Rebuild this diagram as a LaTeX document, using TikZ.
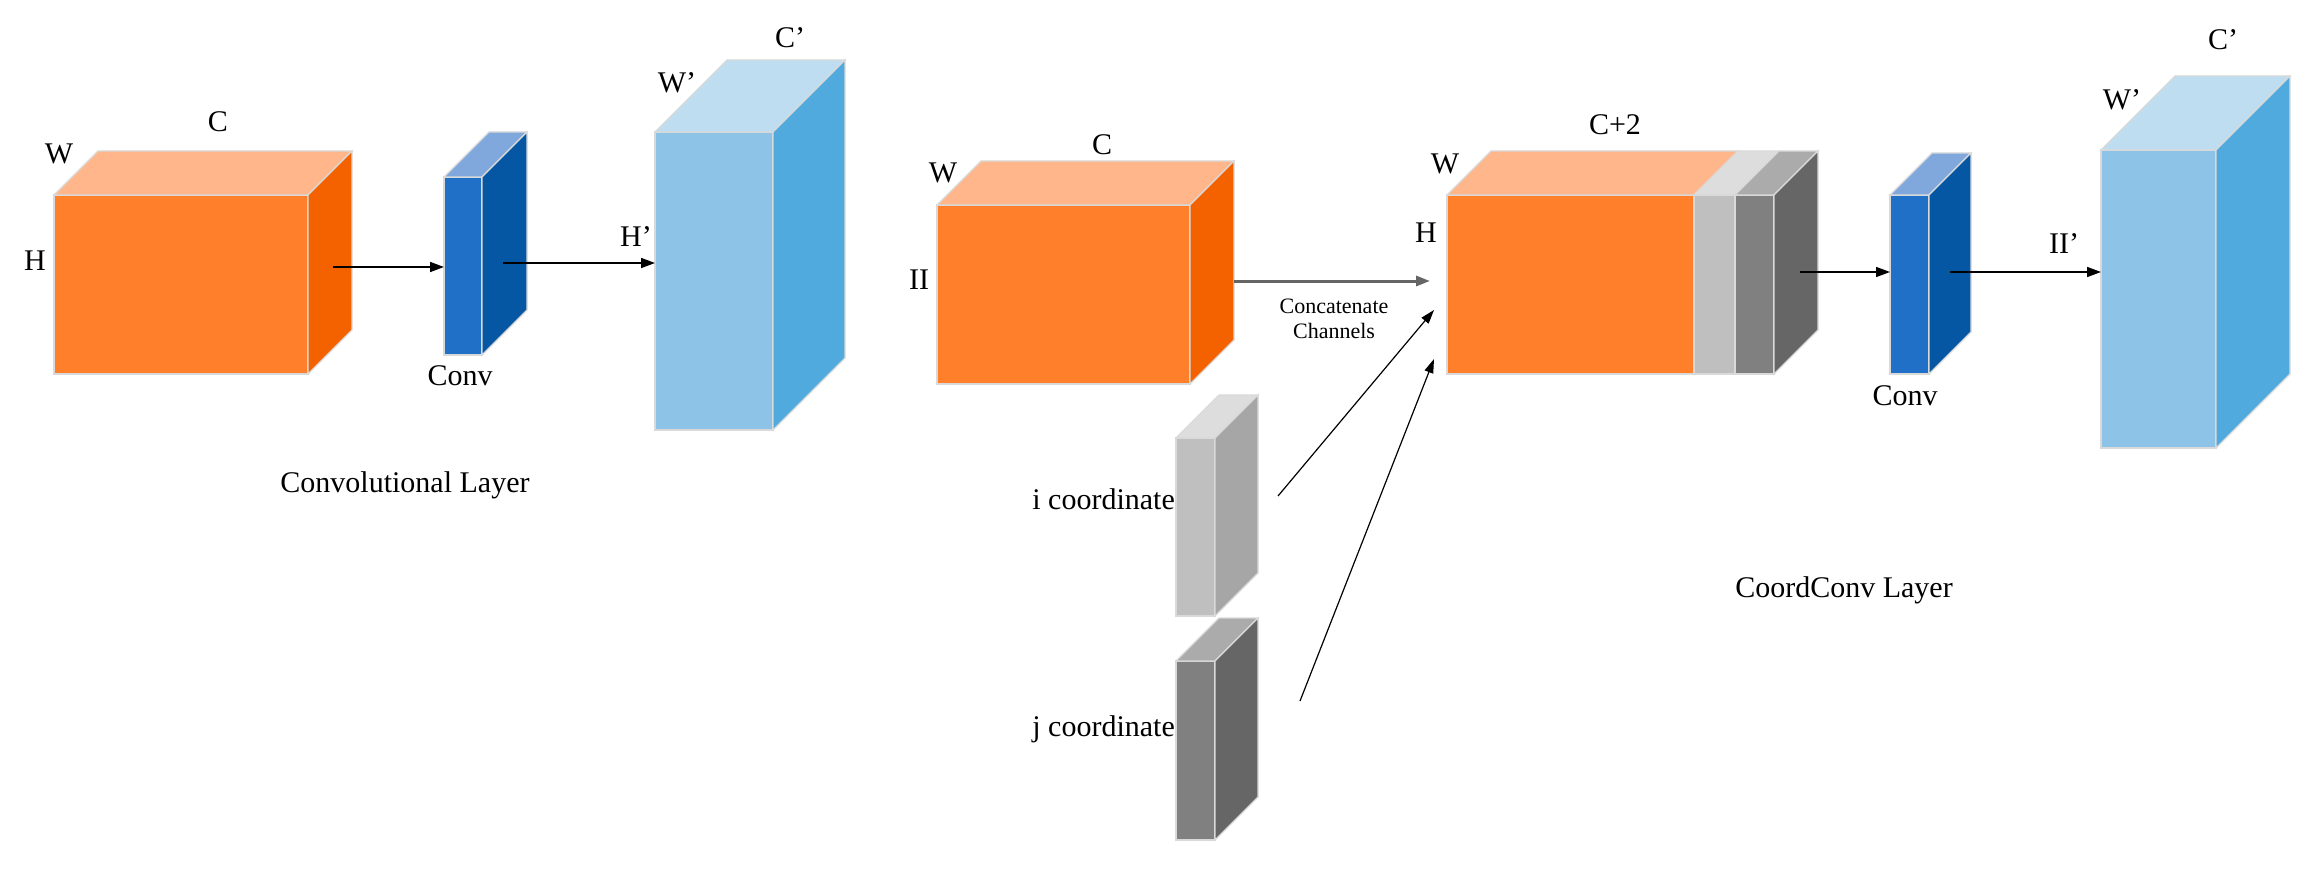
\documentclass[tikz,border=0pt]{standalone}
\usepackage{fontspec}
\setmainfont{Liberation Serif}
\usetikzlibrary{arrows.meta}
\definecolor{orF}{HTML}{FF7F2A}\definecolor{orT}{HTML}{FFB68A}\definecolor{orR}{HTML}{F46200}
\definecolor{cvF}{HTML}{2070C8}\definecolor{cvT}{HTML}{80A8DC}\definecolor{cvR}{HTML}{0557A4}
\definecolor{blF}{HTML}{8DC3E7}\definecolor{blT}{HTML}{BEDDF1}\definecolor{blR}{HTML}{50AADD}
\definecolor{g1F}{HTML}{BFBFBF}\definecolor{g1T}{HTML}{DDDDDD}\definecolor{g1R}{HTML}{A6A6A6}
\definecolor{g2F}{HTML}{808080}\definecolor{g2T}{HTML}{ABABAB}\definecolor{g2R}{HTML}{666666}
\newcommand\cuboid[9]{%
 \node[face,fill=#7,minimum width=#4pt,minimum height=#5pt,anchor=north west] (#1) at (#2,#3) {};
 \filldraw[edge,fill=#8] (#1.north west) -- ++(#6,-#6) -- ++(#4,0) -- (#1.north east) -- cycle;
 \filldraw[edge,fill=#9] (#1.north east) -- ++(#6,-#6) -- ++(0,#5) -- (#1.south east) -- cycle;}
\begin{document}
\begin{tikzpicture}[x=1pt,y=-1pt,
 face/.style={draw=white!85!black,line width=1.2pt,inner sep=0pt,outer sep=0pt},
 edge/.style={draw=white!85!black,line width=1.2pt},
 lab/.style={font=\fontsize{30}{32}\selectfont,inner sep=1pt},
 small/.style={font=\fontsize{22}{25}\selectfont,inner sep=1pt,align=center},
 arr/.style={line width=1.6pt,-{Triangle[length=14pt,width=10pt]}},
 thin/.style={line width=1.2pt,-{Triangle[length=14pt,width=9pt]}}]
\useasboundingbox (0,0) rectangle (2318,869);
% left panel
\cuboid{or1}{54}{195}{254}{179}{44}{orF}{orT}{orR}
\cuboid{cv1}{444}{177}{38}{178}{45}{cvF}{cvT}{cvR}
\cuboid{bl1}{655}{132}{118}{298}{72}{blF}{blT}{blR}
\node[lab] (w1) at (59,154) {W};
\node[lab] (c1) at (218,122) {C};
\node[lab] (h1) at (35,261) {H};
\node[lab] (cvl1) at (460,376) {Conv};
\node[lab] (h1p) at (636,237) {H'};
\node[lab] (w1p) at (677,83) {W'};
\node[lab] (c1p) at (790,38) {C'};
\node[lab] (t1) at (405,485) {Convolutional Layer};
\coordinate (a1) at (333,267);
\draw[arr] (a1) -- (cv1.west |- a1);
\coordinate (a2) at (503,263);
\draw[arr] (a2) -- (bl1.west |- a2);
% middle
\cuboid{or2}{937}{205}{253}{179}{44}{orF}{orT}{orR}
\node[lab] (w2) at (943,173) {W};
\node[lab] (c2) at (1102,145) {C};
\node[lab] (h2) at (919,280) {II};
\cuboid{ci}{1176}{438}{39}{178}{43}{g1F}{g1T}{g1R}
\cuboid{cj}{1176}{661}{39}{179}{43}{g2F}{g2T}{g2R}
\node[lab,anchor=east] (ti) at (1176,499) {i coordinate};
\node[lab,anchor=east] (tj) at (1176,729) {j coordinate};
% combined
\node[face,fill=orF,minimum width=247pt,minimum height=179pt,anchor=north west] (cmb) at (1447,195) {};
\node[face,fill=g1F,minimum width=41pt,minimum height=179pt,anchor=north west] (cmg1) at (cmb.north east) {};
\node[face,fill=g2F,minimum width=39pt,minimum height=179pt,anchor=north west] (cmg2) at (cmg1.north east) {};
\filldraw[edge,fill=orT] (cmb.north west) -- ++(44,-44) -- ++(247,0) -- (cmb.north east) -- cycle;
\filldraw[edge,fill=g1T] (cmg1.north west) -- ++(44,-44) -- ++(41,0) -- (cmg1.north east) -- cycle;
\filldraw[edge,fill=g2T] (cmg2.north west) -- ++(44,-44) -- ++(39,0) -- (cmg2.north east) -- cycle;
\filldraw[edge,fill=g2R] (cmg2.north east) -- ++(44,-44) -- ++(0,179) -- (cmg2.south east) -- cycle;
\node[lab] (hc) at (1426,233) {H};
\node[lab] (wc) at (1445,164) {W};
\node[lab] (cc) at (1615,125) {C+2};
\coordinate (cat) at (1430,281);
\draw[line width=3pt,draw=gray!80!black,-{Triangle[length=14pt,width=10pt]}] (or2.east |- cat) ++(44,0) -- (cat);
\node[small] (ct) at (1334,319) {Concatenate\\Channels};
\coordinate (ie) at (1278,496);
\coordinate (ih) at (1434,310);
\draw[thin] (ie) -- (ih);
\coordinate (je) at (1300,701);
\coordinate (jh) at (1434,359);
\draw[thin] (je) -- (jh);
\cuboid{cv2}{1890}{195}{39}{179}{42}{cvF}{cvT}{cvR}
\node[lab] (cvl2) at (1905,396) {Conv};
\cuboid{bl2}{2101}{150}{115}{298}{74}{blF}{blT}{blR}
\coordinate (a3) at (1800,272);
\draw[arr] (a3) -- (cv2.west |- a3);
\coordinate (a4) at (1950,272);
\draw[arr] (a4) -- (bl2.west |- a4);
\node[lab] (h2p) at (2064,244) {II'};
\node[lab] (w2p) at (2122,100) {W'};
\node[lab] (c2p) at (2223,40) {C'};
\node[lab] (t2) at (1844,590) {CoordConv Layer};
\end{tikzpicture}
\end{document}
